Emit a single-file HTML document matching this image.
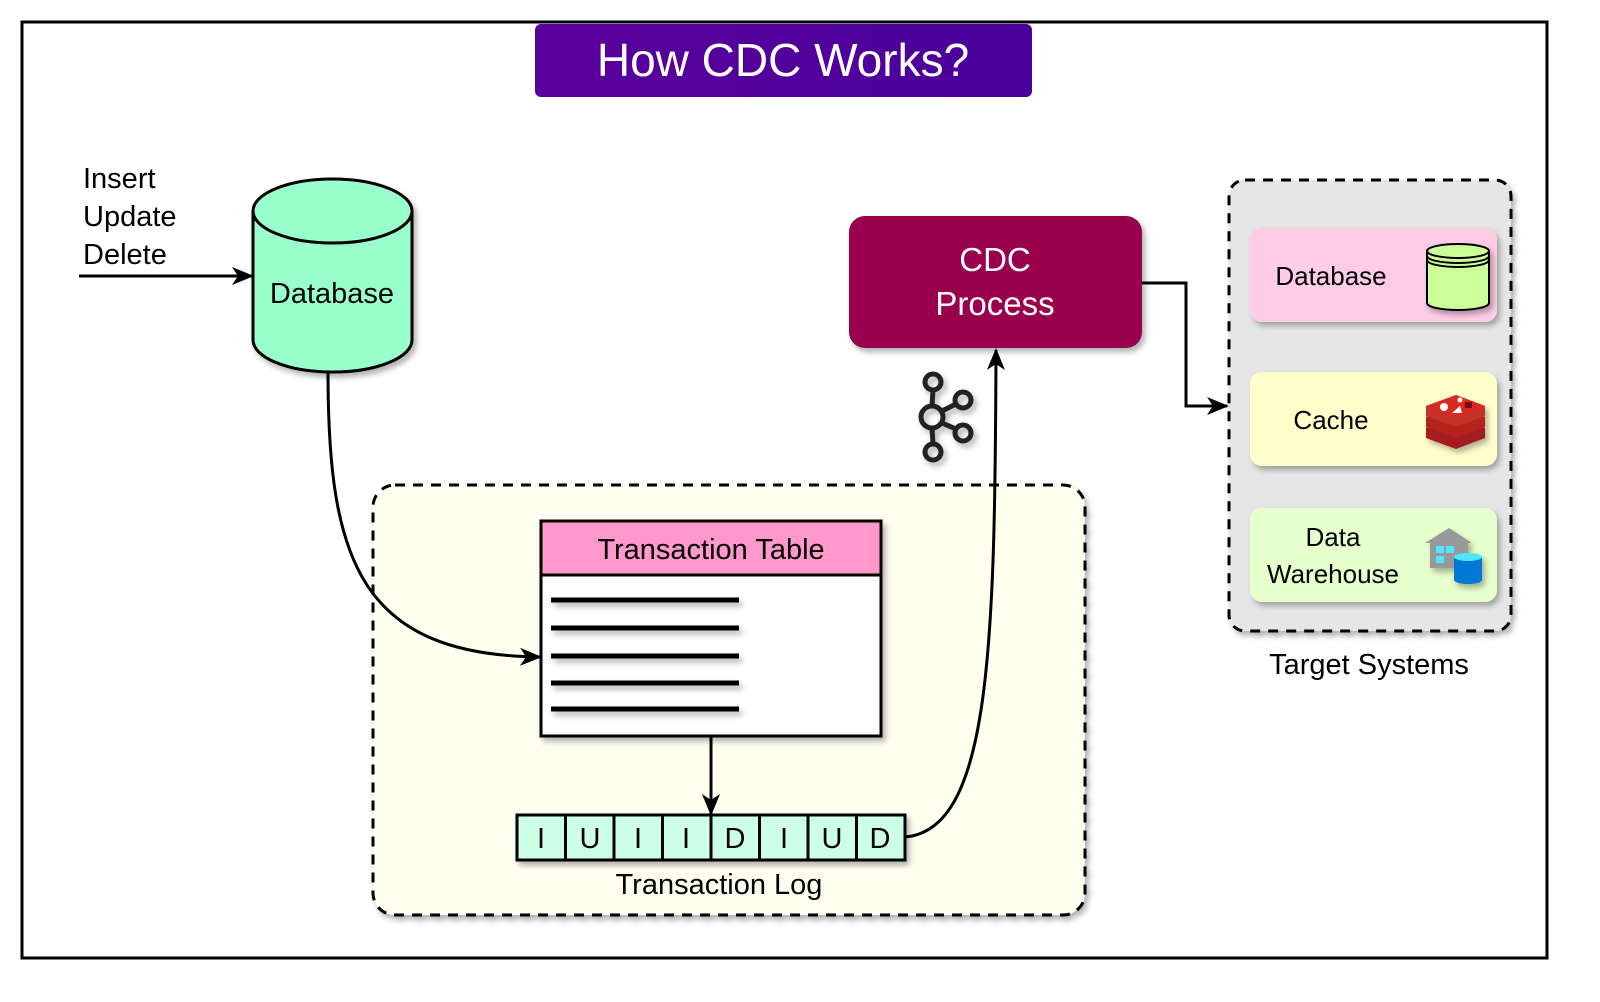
<!DOCTYPE html>
<html><head><meta charset="utf-8"><style>
html,body{margin:0;padding:0;background:#fff;}
svg{display:block;font-family:"Liberation Sans",Arial,sans-serif;}
</style></head><body>
<svg width="1600" height="1002" viewBox="0 0 1600 1002" xmlns="http://www.w3.org/2000/svg">
<defs>
<marker id="ah" markerWidth="22" markerHeight="18" refX="20" refY="9" orient="auto" markerUnits="userSpaceOnUse" viewBox="0 0 22 18">
<path d="M0,0 L22,9 L0,18 L6,9 Z" fill="#000"/>
</marker>
<filter id="sh" x="-10%" y="-10%" width="130%" height="130%"><feDropShadow dx="3" dy="4" stdDeviation="3" flood-opacity="0.3"/></filter>
<linearGradient id="tg" x1="0" y1="0" x2="1" y2="0"><stop offset="0" stop-color="#5a009c"/><stop offset="1" stop-color="#4a009a"/></linearGradient>
</defs>
<rect x="22" y="22" width="1525" height="936" fill="#fff" stroke="#000" stroke-width="3"/>
<rect x="535" y="24" width="497" height="73" rx="6" fill="url(#tg)"/>
<text x="783" y="76" text-anchor="middle" font-size="46" fill="#fff">How CDC Works?</text>

<text font-size="29" fill="#000"><tspan x="83" y="188">Insert</tspan><tspan x="83" y="226">Update</tspan><tspan x="83" y="264">Delete</tspan></text>
<line x1="79" y1="276" x2="252" y2="276" stroke="#000" stroke-width="3" marker-end="url(#ah)"/>

<g filter="url(#sh)">
<path d="M253,211 L253,340 A79.5,32 0 0 0 412,340 L412,211 A79.5,32 0 0 0 253,211 Z" fill="#99ffcc" stroke="#000" stroke-width="3"/>
<path d="M253,211 A79.5,32 0 0 0 412,211" fill="none" stroke="#000" stroke-width="3"/>
</g>
<text x="332" y="303" text-anchor="middle" font-size="29">Database</text>

<rect x="373" y="485" width="712" height="430" rx="22" fill="#fffff0" stroke="#000" stroke-width="3" stroke-dasharray="10,8" filter="url(#sh)"/>

<path d="M328,372 C328,560 360,655 540,657" fill="none" stroke="#000" stroke-width="3" marker-end="url(#ah)"/>

<g filter="url(#sh)">
<rect x="541" y="521" width="340" height="215" fill="#fff" stroke="#000" stroke-width="3"/>
<rect x="541" y="521" width="340" height="54" fill="#ff99cc" stroke="#000" stroke-width="3"/>
</g>
<text x="711" y="559" text-anchor="middle" font-size="29">Transaction Table</text>
<g stroke="#000" stroke-width="5" filter="url(#sh)">
<line x1="551" y1="600" x2="739" y2="600"/>
<line x1="551" y1="628" x2="739" y2="628"/>
<line x1="551" y1="656" x2="739" y2="656"/>
<line x1="551" y1="683" x2="739" y2="683"/>
<line x1="551" y1="709" x2="739" y2="709"/>
</g>
<line x1="711" y1="737" x2="711" y2="814" stroke="#000" stroke-width="3" marker-end="url(#ah)"/>

<g filter="url(#sh)">
<rect x="517" y="815" width="388" height="45" fill="#ccffe6" stroke="#000" stroke-width="3"/>
</g>
<g stroke="#000" stroke-width="3">
<line x1="565.5" y1="815" x2="565.5" y2="860"/><line x1="614" y1="815" x2="614" y2="860"/>
<line x1="662.5" y1="815" x2="662.5" y2="860"/><line x1="711" y1="815" x2="711" y2="860"/>
<line x1="759.5" y1="815" x2="759.5" y2="860"/><line x1="808" y1="815" x2="808" y2="860"/>
<line x1="856.5" y1="815" x2="856.5" y2="860"/>
</g>
<g font-size="29" text-anchor="middle">
<text x="541" y="848">I</text><text x="590" y="848">U</text><text x="638" y="848">I</text><text x="686" y="848">I</text>
<text x="735" y="848">D</text><text x="784" y="848">I</text><text x="832" y="848">U</text><text x="880" y="848">D</text>
</g>
<text x="719" y="894" text-anchor="middle" font-size="29">Transaction Log</text>

<path d="M905,837 C990,830 995,650 996,350" fill="none" stroke="#000" stroke-width="3" marker-end="url(#ah)"/>

<rect x="849" y="216" width="293" height="132" rx="16" fill="#99004d" filter="url(#sh)"/>
<text x="995" y="271" text-anchor="middle" font-size="33" fill="#fff">CDC</text>
<text x="995" y="315" text-anchor="middle" font-size="33" fill="#fff">Process</text>

<g fill="none" stroke="#222" stroke-width="5" filter="url(#sh)">
<circle cx="933" cy="382" r="8"/><circle cx="932" cy="417" r="11"/><circle cx="933" cy="452" r="8"/>
<circle cx="963" cy="400" r="8"/><circle cx="963" cy="433" r="8"/>
<line x1="933" y1="390" x2="932" y2="406"/><line x1="932" y1="428" x2="933" y2="444"/>
<line x1="942" y1="411" x2="956" y2="404"/><line x1="942" y1="423" x2="956" y2="429"/>
</g>

<path d="M1142,283 L1186,283 L1186,406 L1227,406" fill="none" stroke="#000" stroke-width="3" marker-end="url(#ah)"/>

<rect x="1229" y="180" width="282" height="451" rx="16" fill="#e6e6e6" stroke="#000" stroke-width="3" stroke-dasharray="10,8" filter="url(#sh)"/>
<rect x="1250" y="228" width="247" height="94" rx="12" fill="#ffcce6" filter="url(#sh)"/>
<rect x="1250" y="372" width="247" height="94" rx="12" fill="#ffffcc" filter="url(#sh)"/>
<rect x="1250" y="508" width="247" height="94" rx="12" fill="#e6ffcc" filter="url(#sh)"/>
<text x="1331" y="285" text-anchor="middle" font-size="26">Database</text>
<text x="1331" y="429" text-anchor="middle" font-size="26">Cache</text>
<text x="1333" y="546" text-anchor="middle" font-size="26">Data</text>
<text x="1333" y="583" text-anchor="middle" font-size="26">Warehouse</text>
<text x="1369" y="674" text-anchor="middle" font-size="29">Target Systems</text>

<g filter="url(#sh)" stroke="#000" stroke-width="2">
<path d="M1427,251 L1427,303 A31,7 0 0 0 1489,303 L1489,251 Z" fill="#ccff99"/>
<ellipse cx="1458" cy="251" rx="31" ry="7" fill="#ccff99"/>
<path d="M1427,256 A31,7 0 0 0 1489,256 M1427,260 A31,7 0 0 0 1489,260" fill="none"/>
</g>
<g filter="url(#sh)">
<path d="M1426,428 L1456,417 L1485,428 L1485,438 L1456,449 L1426,438 Z" fill="#a41e22"/>
<path d="M1426,417 L1456,406 L1485,417 L1485,427 L1456,438 L1426,427 Z" fill="#b5201f"/>
<path d="M1426,406 L1456,395 L1485,406 L1485,416 L1456,427 L1426,416 Z" fill="#c6302b"/>
<path d="M1426,406 L1456,395 L1485,406 L1456,417 Z" fill="#d82c20"/>
<circle cx="1444" cy="407" r="4" fill="#fff"/><path d="M1452,413 L1462,413 L1460,406 Z" fill="#fff"/>
<rect x="1465" y="402" width="7" height="6" fill="#7a0c0c"/><circle cx="1460" cy="400" r="2.5" fill="#fff"/>
</g>
<g filter="url(#sh)">
<path d="M1425,543 L1449,528 L1472,543 L1468,543 L1468,568 L1430,568 L1430,543 Z" fill="#999"/>
<rect x="1436" y="546" width="8" height="7" fill="#50e6ff"/><rect x="1446" y="546" width="8" height="7" fill="#50e6ff"/>
<rect x="1436" y="556" width="8" height="7" fill="#50e6ff"/>
<path d="M1454,557 L1454,580 A14,4 0 0 0 1482,580 L1482,557 Z" fill="#0078d4"/>
<ellipse cx="1468" cy="557" rx="14" ry="4" fill="#50e6ff"/>
</g>
</svg>
</body></html>
